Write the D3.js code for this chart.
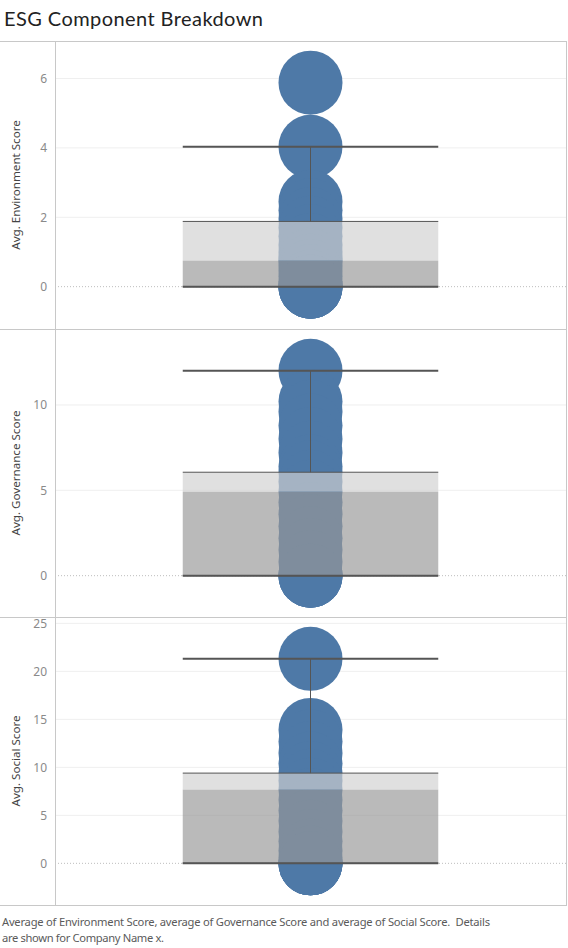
<!DOCTYPE html>
<html>
<head>
<meta charset="utf-8">
<script src="https://cdn.jsdelivr.net/npm/d3@7"></script>
<style>
  html, body { margin: 0; padding: 0; background: #fff; }
  svg { display: block; }
  .footer { white-space: pre; }
</style>
</head>
<body>
<svg id="chart" width="568" height="948"></svg>
<script>
// ---- Data ----
const title = "ESG Component Breakdown";
const components = ["Environment", "Governance", "Social"];
const axisTitles = ["Avg. Environment Score", "Avg. Governance Score", "Avg. Social Score"];
const yDomains = [[-1.22, 7.08], [-2.42, 14.45], [-4.34, 25.66]];
const yTicks = [[0, 2, 4, 6], [0, 5, 10], [0, 5, 10, 15, 20, 25]];

// Avg. scores per company
const envScores = [5.88, 4.03, 2.45, 2.2, 1.95, 1.7, 1.45, 1.2, 1.0, 0.8, 0.75, 0.6, 0.45, 0.3, 0.15, 0, 0, 0, 0, 0];
const govScores = [12.0, 10.2, 9.6, 8.8, 8.0, 7.2, 6.4, 6.06, 5.5, 4.92, 4.3, 3.6, 2.9, 2.2, 1.5, 0.8, 0, 0, 0, 0];
const socScores = [21.3, 13.9, 12.7, 11.5, 10.4, 9.4, 8.6, 7.67, 6.6, 5.5, 4.4, 3.3, 2.3, 1.3, 0.6, 0, 0, 0, 0, 0];
const allScores = [envScores, govScores, socScores];

// Box plot statistics
const whiskerLow = [0, 0, 0];
const q1 = [0, 0, 0];
const medians = [0.75, 4.92, 7.67];
const q3 = [1.88, 6.06, 9.4];
const whiskerHigh = [4.03, 12.0, 21.3];

const footer = [
  "Average of Environment Score, average of Governance Score and average of Social Score.  Details",
  "are shown for Company Name x."
];

// ---- Layout ----
const plotLeft = 55, plotRight = 566;
const panelTop = 41, panelH = 288;
const font = "'Noto Sans', sans-serif";
const footerWidths = [488, 162];

const svg = d3.select("#chart");

svg.append("text")
  .attr("x", 4).attr("y", 26)
  .attr("font-family", "Lato, sans-serif").attr("font-size", 20)
  .attr("fill", "#222")
  .attr("textLength", 259).attr("lengthAdjust", "spacing")
  .text(title);

const x = d3.scaleBand().domain(["x"]).range([plotLeft, plotRight]);
const cx = x("x") + x.bandwidth() / 2;
const boxW = x.bandwidth() * 0.5;

components.forEach((comp, i) => {
  const top = panelTop + i * panelH;
  const bottom = top + panelH;
  const y = d3.scaleLinear().domain(yDomains[i]).range([bottom, top]);
  const g = svg.append("g");

  // gridlines
  g.selectAll("line.grid").data(yTicks[i].filter(t => t !== 0)).join("line")
    .attr("x1", plotLeft).attr("x2", plotRight)
    .attr("y1", d => y(d)).attr("y2", d => y(d))
    .attr("stroke", "#efefef").attr("stroke-width", 1);

  // zero line (dotted)
  g.append("line")
    .attr("x1", plotLeft).attr("x2", plotRight)
    .attr("y1", y(0)).attr("y2", y(0))
    .attr("stroke", "#bdbdbd").attr("stroke-width", 1)
    .attr("stroke-dasharray", "1,2");

  // axis
  const axis = d3.axisLeft(y).tickValues(yTicks[i]).tickSize(0).tickPadding(8);
  const ag = g.append("g").attr("transform", `translate(${plotLeft},0)`).call(axis);
  ag.select(".domain").remove();
  ag.selectAll("text")
    .attr("font-family", font).attr("font-size", 12)
    .attr("fill", "#8a8a8a");

  // axis title
  g.append("text")
    .attr("transform", `translate(20,${(top + bottom) / 2}) rotate(-90)`)
    .attr("text-anchor", "middle")
    .attr("font-family", font).attr("font-size", 11.6)
    .attr("fill", "#444")
    .text(axisTitles[i]);

  // circles
  g.selectAll("circle").data(allScores[i]).join("circle")
    .attr("cx", cx).attr("cy", d => y(d)).attr("r", 32)
    .attr("fill", "#4e79a7");

  // boxes
  g.append("rect")
    .attr("x", cx - boxW / 2).attr("width", boxW)
    .attr("y", y(q3[i])).attr("height", y(medians[i]) - y(q3[i]))
    .attr("fill", "#d0d0d0").attr("fill-opacity", 0.667);
  g.append("rect")
    .attr("x", cx - boxW / 2).attr("width", boxW)
    .attr("y", y(medians[i])).attr("height", y(q1[i]) - y(medians[i]))
    .attr("fill", "#979797").attr("fill-opacity", 0.667);

  // box edges
  [q3[i], q1[i]].forEach(v => {
    g.append("line")
      .attr("x1", cx - boxW / 2).attr("x2", cx + boxW / 2)
      .attr("y1", y(v)).attr("y2", y(v))
      .attr("stroke", "#555").attr("stroke-width", 1);
  });

  // whisker stems
  g.append("line")
    .attr("x1", cx).attr("x2", cx)
    .attr("y1", y(q3[i])).attr("y2", y(whiskerHigh[i]))
    .attr("stroke", "#555").attr("stroke-width", 1);
  g.append("line")
    .attr("x1", cx).attr("x2", cx)
    .attr("y1", y(q1[i])).attr("y2", y(whiskerLow[i]))
    .attr("stroke", "#555").attr("stroke-width", 1);

  // whisker caps
  [whiskerHigh[i], whiskerLow[i]].forEach(v => {
    g.append("line")
      .attr("x1", cx - boxW / 2).attr("x2", cx + boxW / 2)
      .attr("y1", y(v)).attr("y2", y(v))
      .attr("stroke", "#555").attr("stroke-width", 2);
  });

  // panel bottom border
  svg.append("line")
    .attr("x1", 0).attr("x2", plotRight + 1)
    .attr("y1", bottom + 0.5).attr("y2", bottom + 0.5)
    .attr("stroke", "#c8c8c8").attr("stroke-width", 1);
});

// top border
svg.append("line")
  .attr("x1", 0).attr("x2", plotRight + 1)
  .attr("y1", panelTop + 0.5).attr("y2", panelTop + 0.5)
  .attr("stroke", "#c8c8c8").attr("stroke-width", 1);
// left axis line & right border
svg.append("line")
  .attr("x1", plotLeft + 0.5).attr("x2", plotLeft + 0.5)
  .attr("y1", panelTop).attr("y2", panelTop + 3 * panelH)
  .attr("stroke", "#c8c8c8").attr("stroke-width", 1);
svg.append("line")
  .attr("x1", plotRight + 0.5).attr("x2", plotRight + 0.5)
  .attr("y1", panelTop).attr("y2", panelTop + 3 * panelH)
  .attr("stroke", "#c8c8c8").attr("stroke-width", 1);

// footer
svg.selectAll("text.footer").data(footer).join("text")
  .attr("class", "footer")
  .attr("x", 2).attr("y", (d, k) => 926 + k * 16)
  .attr("font-family", font).attr("font-size", 11.2)
  .attr("fill", "#5a5a5a")
  .attr("textLength", (d, k) => footerWidths[k]).attr("lengthAdjust", "spacing")
  .text(d => d);
</script>
</body>
</html>
